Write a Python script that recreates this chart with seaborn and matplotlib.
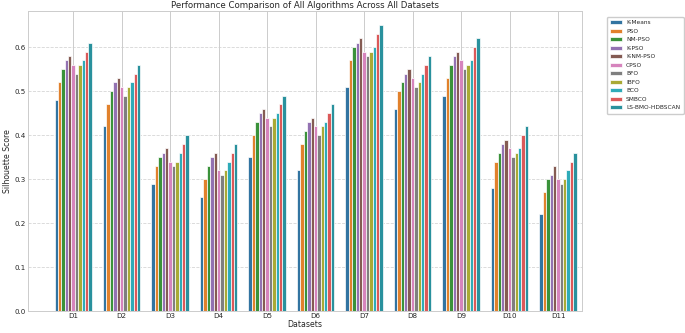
import seaborn as sns
import matplotlib.pyplot as plt
import pandas as pd

# データ
datasets = ["D1", "D2", "D3", "D4", "D5", "D6", "D7", "D8", "D9", "D10", "D11"]
algorithms = ["K-Means", "PSO", "NM-PSO", "K-PSO", "K-NM-PSO", "CPSO",
              "BFO", "IBFO", "BCO", "SMBCO", "LS-BMO-HDBSCAN"]

kmeans = [0.48, 0.42, 0.29, 0.26, 0.35, 0.32, 0.51, 0.46, 0.49, 0.28, 0.22]
pso = [0.52, 0.47, 0.33, 0.30, 0.40, 0.38, 0.57, 0.50, 0.53, 0.34, 0.27]
nm_pso = [0.55, 0.50, 0.35, 0.33, 0.43, 0.41, 0.60, 0.52, 0.56, 0.36, 0.30]
k_pso = [0.57, 0.52, 0.36, 0.35, 0.45, 0.43, 0.61, 0.54, 0.58, 0.38, 0.31]
k_nm_pso = [0.58, 0.53, 0.37, 0.36, 0.46, 0.44, 0.62, 0.55, 0.59, 0.39, 0.33]
cpso = [0.56, 0.51, 0.34, 0.32, 0.44, 0.42, 0.59, 0.53, 0.57, 0.37, 0.30]
bfo = [0.54, 0.49, 0.33, 0.31, 0.42, 0.40, 0.58, 0.51, 0.55, 0.35, 0.29]
ibfo = [0.56, 0.51, 0.34, 0.32, 0.44, 0.42, 0.59, 0.52, 0.56, 0.36, 0.30]
bco = [0.57, 0.52, 0.36, 0.34, 0.45, 0.43, 0.60, 0.54, 0.57, 0.37, 0.32]
smbco = [0.59, 0.54, 0.38, 0.36, 0.47, 0.45, 0.63, 0.56, 0.60, 0.40, 0.34]
ls_bmo = [0.61, 0.56, 0.40, 0.38, 0.49, 0.47, 0.65, 0.58, 0.62, 0.42, 0.36]

scores = [kmeans, pso, nm_pso, k_pso, k_nm_pso, cpso, bfo, ibfo, bco, smbco, ls_bmo]

colors = ["#1f77b4", "#ff7f0e", "#2ca02c", "#9467bd", "#8c564b", "#e377c2",
          "#7f7f7f", "#bcbd22", "#17becf", "#f14343", "#16a0b0"]

rows = []
for alg, vals in zip(algorithms, scores):
    for d, v in zip(datasets, vals):
        rows.append({"Dataset": d, "Algorithm": alg, "Score": v})
df = pd.DataFrame(rows)

# スタイル設定
sns.set_theme(style="whitegrid")

fig = plt.figure(figsize=(6.85, 3.33), dpi=100)
ax = fig.add_axes([0.041, 0.066, 0.809, 0.901])

sns.barplot(data=df, x="Dataset", y="Score", hue="Algorithm",
            order=datasets, hue_order=algorithms, palette=colors,
            errorbar=None, width=0.77, edgecolor="white", linewidth=0.5,
            ax=ax)

ax.set_xlim(-0.93, 10.5)
ax.set_ylim(0, 0.6825)
ax.yaxis.grid(True, linestyle="--", linewidth=0.6, alpha=0.8)
ax.xaxis.grid(True, linewidth=0.7)
for s in ax.spines.values():
    s.set_linewidth(0.7)

ax.set_title("Performance Comparison of All Algorithms Across All Datasets",
             fontsize=6.2, pad=2)
ax.set_xlabel("Datasets", fontsize=5.6, labelpad=1)
ax.set_ylabel("Silhouette Score", fontsize=5.6, labelpad=2)
ax.tick_params(axis="both", labelsize=5.1, pad=1.5, length=0)

ax.legend(loc="upper left", bbox_to_anchor=(1.039, 0.99), fontsize=4.2,
          frameon=True, handlelength=2.0, handleheight=0.6,
          labelspacing=0.6, borderpad=0.6, handletextpad=0.7, framealpha=1)

fig.savefig("out.png", dpi=100)
